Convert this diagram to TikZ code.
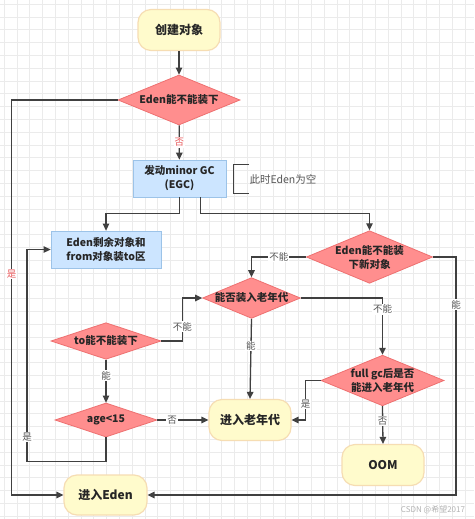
\documentclass[tikz,border=0pt]{standalone}
\usepackage{fontspec}
\setmainfont{Noto Sans CJK SC}
\usetikzlibrary{shapes.geometric,arrows.meta}
\definecolor{lnc}{HTML}{404040}
\definecolor{gridc}{HTML}{EBEBEB}
\definecolor{termf}{HTML}{FFFBCC}
\definecolor{termb}{HTML}{F6DDB3}
\definecolor{blkf}{HTML}{CCE5FF}
\definecolor{blkb}{HTML}{9CC3E8}
\definecolor{diaf}{HTML}{FF8E8E}
\definecolor{diab}{HTML}{EE7070}
\definecolor{lbc}{HTML}{555555}
\definecolor{redc}{HTML}{E8585A}
\begin{document}
\begin{tikzpicture}[x=1pt,y=-1pt,
	term/.style={draw=termb,fill=termf,line width=1.2pt,rounded corners=13pt,minimum width=82pt,minimum height=41pt,text=black!85,font=\fontsize{12}{14}\selectfont\bfseries},
	blk/.style={draw=blkb,fill=blkf,line width=0.8pt,minimum width=#1,minimum height=37pt,align=center,text=black!85,font=\fontsize{10.5}{14}\selectfont\bfseries},
	dia/.style 2 args={diamond,draw=diab,fill=diaf,line width=0.8pt,inner sep=0pt,aspect=2.4,minimum width=#1,minimum height=#2,align=center,text=black!85,font=\fontsize{10.5}{14}\selectfont\bfseries},
	ln/.style={draw=lnc,line width=1.3pt},
	arr/.style={ln,-{Triangle[length=7pt,width=6.5pt]}},
	lb/.style={fill=white,inner sep=1pt,text=lbc,font=\fontsize{9.5}{11}\selectfont}]
	\useasboundingbox (0,0) rectangle (474,519);
	\fill[white] (0,0) rectangle (474,519);
	\foreach \i in {0,...,36}
	\draw[gridc,line width=0.5pt] ({4+12.8*\i},0) -- ({4+12.8*\i},519);
	\foreach \j in {0,...,40}
	\draw[gridc,line width=0.5pt] (0,{4+12.8*\j}) -- (474,{4+12.8*\j});
	\node[term] (create) at (179,30) {创建对象};
	\node[dia={122pt}{50pt}] (edenfit) at (179,100) {Eden能不能装下};
	\node[blk=93pt] (mgc) at (179.5,178.5) {发动minor GC\\(EGC)};
	\node[blk=110pt] (copyto) at (106,249.5) {Eden剩余对象和\\from对象装to区};
	\node[dia={123pt}{50pt}] (edennew) at (369.5,257) {Eden能不能装\\下新对象};
	\node[dia={97pt}{32pt}] (oldfit) at (251.5,298) {能否装入老年代};
	\node[dia={110pt}{32pt}] (tofit) at (106,341) {to能不能装下};
	\node[dia={102pt}{34pt}] (age) at (106,420) {age<15};
	\node[term] (oldgen) at (250,420) {进入老年代};
	\node[dia={123pt}{47pt}] (fullgc) at (382.5,380.5) {full gc后是否\\能进入老年代};
	\node[term] (oom) at (383,465) {OOM};
	\node[term,minimum width=83pt,minimum height=40pt] (eden) at (105.5,495) {进入Eden};
	\node[anchor=west,text=lbc,font=\fontsize{10.5}{12}\selectfont] (note) at (246,179) {此时Eden为空};
	\draw[lnc,line width=1pt] (249,164) -- (233,164) -- (233,193) -- (249,193);
	\node[text=black!30,font=\fontsize{8}{10}\selectfont] (mark) at (433,510) {CSDN @希望2017};
	\draw[arr] (create) -- (edenfit);
	\draw[arr] (edenfit) -- node[lb,text=redc] {否} (mgc);
	\draw[arr] (mgc.south) -- ++(0,16) -| (copyto.north);
	\draw[arr] ([xshift=21pt]mgc.south) -- ++(0,16) -| (edennew.north);
	\draw[arr] (edennew.west) -| node[lb,pos=0.25] {不能} (oldfit.north);
	\draw[arr] (edennew.east) -- ++(23,0) |- node[lb,pos=0.1] {能} (eden.east);
	\draw[arr] (oldfit.east) -| node[lb,pos=0.6] {不能} (fullgc.north);
	\draw[arr] (oldfit.south) -- node[lb,pos=0.34] {能} (oldgen.north);
	\draw[arr] (tofit.east) -- ++(21,0) |- node[lb,pos=0.17] {不能} (oldfit.west);
	\draw[arr] (tofit.south) -- node[lb,pos=0.37] {能} (age.north);
	\draw[arr] (age.east) -- node[lb,pos=0.29] {否} (oldgen.west);
	\draw[arr] (age.south) -- ++(0,24) -- ++(-79,0) |- node[lb,pos=0.057] {是} (copyto.west);
	\draw[arr] (fullgc.west) -- ++(-15,0) |- node[lb,pos=0.3] {是} (oldgen.east);
	\draw[arr] (fullgc.south) -- node[lb,pos=0.4] {否} (oom.north);
	\draw[arr] (edenfit.west) -- ++(-106,0) |- node[lb,pos=0.22,text=redc] {是} (eden.west);
\end{tikzpicture}
\end{document}
